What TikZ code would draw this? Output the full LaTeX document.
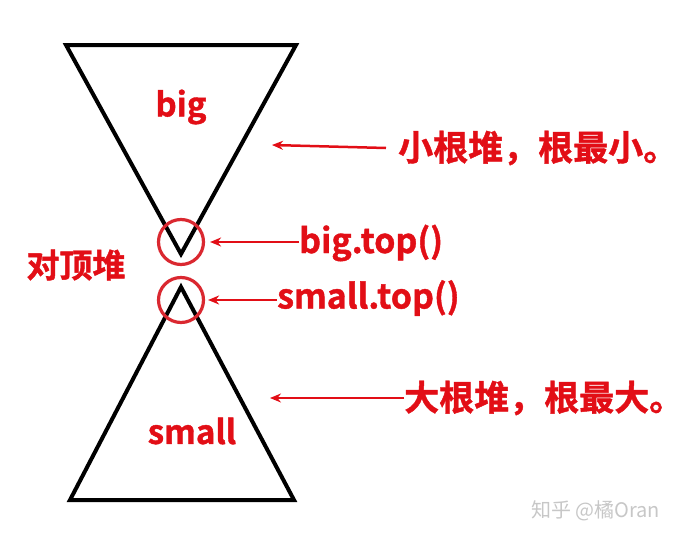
\documentclass[tikz,border=0pt]{standalone}
\usepackage{fontspec}
\newfontfamily\cjk[FakeBold=1.2]{Noto Sans CJK SC Bold}
\newfontfamily\cjkthin{Noto Sans CJK SC}
\usetikzlibrary{arrows.meta}
\definecolor{markred}{RGB}{226,14,22}
\definecolor{ringred}{RGB}{218,40,48}
\begin{document}
\begin{tikzpicture}[x=1pt,y=-1pt,heap/.style={draw=black,line width=4pt,line join=miter},ring/.style={shape=circle,draw=ringred,line width=3.2pt,minimum size=45pt,inner sep=0pt},pointer/.style={draw=markred,line width=2.5pt,-{Stealth[length=11pt,width=9pt]}},note/.style={anchor=west,inner sep=0pt,text=markred,font=\cjk\fontsize{35}{35}\selectfont},code/.style={note,font=\cjk\fontsize{34}{34}\selectfont},heaplabel/.style={text=markred,inner sep=0pt,font=\cjk\fontsize{33}{33}\selectfont}]
\useasboundingbox (0,0) rectangle (683,538);

% the two heaps
\draw[heap] (66,45) -- (296,45) -- (181,254) -- cycle;
\draw[heap] (181,287) -- (294,500) -- (70,500) -- cycle;
\node[heaplabel] (big) at (181,107) {big};
\node[heaplabel] (small) at (192,431) {small};

% tops
\node[ring] (bigring) at (181,242) {};
\node[ring] (smallring) at (181,300) {};

\node[note] (minheap) at (398,148) {小根堆，根最小。};
\node[note] (maxheap) at (404,398) {大根堆，根最大。};
\node[code] (bigtop) at (299,243) {big.top()};
\node[code] (smalltop) at (277,298) {small.top()};
\node[text=markred,inner sep=0pt,font=\cjk\fontsize{33}{33}\selectfont] (pair) at (76,265) {对顶堆};

\draw[pointer] ([xshift=-12pt]minheap.west) -- (272,145);
\draw[pointer] (maxheap.west) -- (270,398);
\draw[pointer] (bigtop.west |- bigring.east) -- ([xshift=5pt]bigring.east);
\draw[pointer] (smalltop.west |- smallring.east) -- ([xshift=3pt]smallring.east);

\node[anchor=west,inner sep=0pt,text=black!22,font=\cjkthin\fontsize{20}{20}\selectfont] (mark) at (531,511) {知乎 @橘Oran};
\end{tikzpicture}
\end{document}
